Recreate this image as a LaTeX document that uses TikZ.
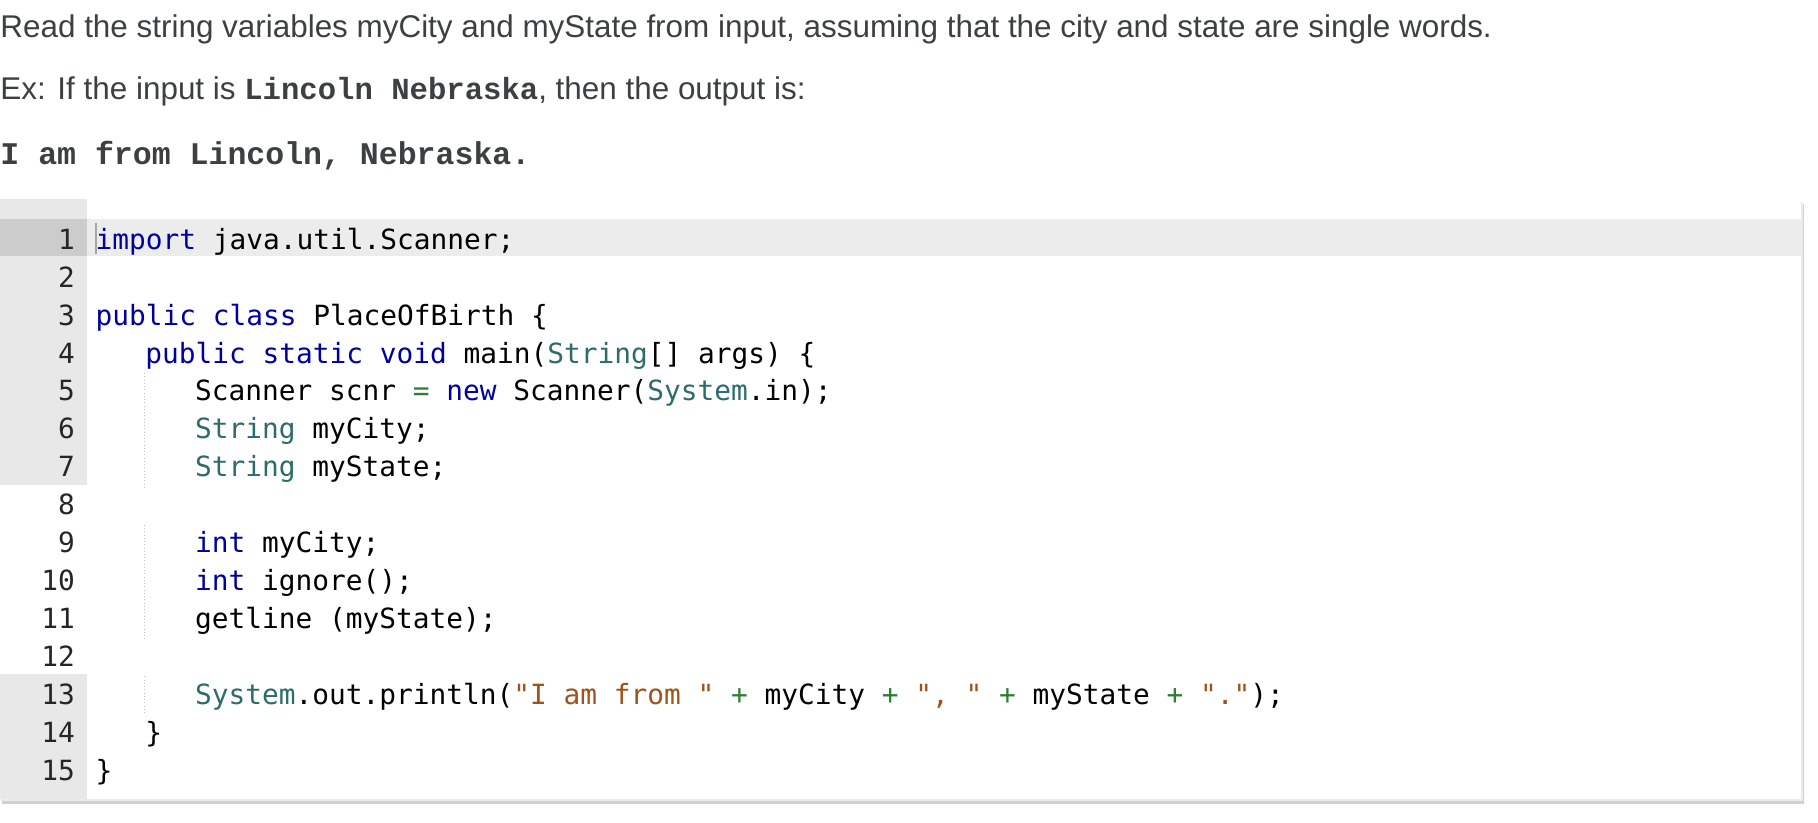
\documentclass[tikz,border=0pt]{standalone}
\usepackage{fontspec}
\setmainfont{Liberation Sans}
\newfontfamily\codefont{DejaVu Sans Mono}
\newfontfamily\exmono{Liberation Mono}
\definecolor{prose}{HTML}{3C4043}
\definecolor{kwc}{HTML}{0000A2}
\definecolor{tyc}{HTML}{2E6B6B}
\definecolor{stc}{HTML}{A0521B}
\definecolor{opc}{HTML}{2E7D32}
\definecolor{gut}{HTML}{E8E8E8}
\definecolor{hl}{HTML}{ECECEC}
\newcommand{\kw}[1]{\textcolor{kwc}{#1}}
\newcommand{\ty}[1]{\textcolor{tyc}{#1}}
\newcommand{\sv}[1]{\textcolor{stc}{#1}}
\newcommand{\op}[1]{\textcolor{opc}{#1}}
\begin{document}
\begin{tikzpicture}[x=0.5pt,y=-0.5pt,
  prose/.style={anchor=base west,inner sep=0pt,text=prose,font=\fontsize{13.55}{16}\selectfont},
  code/.style={anchor=base west,inner sep=0pt,font=\codefont\fontsize{12}{14}\selectfont},
  num/.style={anchor=base east,inner sep=0pt,font=\codefont\fontsize{12}{14}\selectfont,text=black!85}]
\useasboundingbox (0,0) rectangle (1568,709);
\node[prose] (t1) at (0,32) {Read the string variables myCity and myState from input, assuming that the city and state are single words.};
\node[prose] (t2) at (0,86) {Ex: If the input is {\exmono\bfseries\fontsize{13.2}{14}\selectfont Lincoln Nebraska}, then the output is:};
\node[prose,font=\exmono\bfseries\fontsize{13.6}{16}\selectfont] (t3) at (0,142) {I am from Lincoln, Nebraska.};
% editor
\fill[black!18] (2,176) rectangle (1556,693);
\fill[black!8] (1,174) rectangle (1555,691);
\fill[white] (0,172) rectangle (1553,689);
\fill[gut] (0,172) rectangle (75,418);
\fill[gut] (0,581) rectangle (75,689);
\fill[hl] (75,189) rectangle (1553,221);
\fill[black!20] (0,189) rectangle (75,221);
\draw[black!35,line width=0.8pt] (83,192) -- (83,219);
\foreach \a/\b in {5/7,9/11,13/13}{
  \draw[black!25,densely dotted] (125,{215+(\a-1)*32.7-24}) -- (125,{215+(\b-1)*32.7+9});}
\foreach \n in {1,...,15}{\node[num] (n\n) at (65,{215+(\n-1)*32.7}) {\n};}
\def\L#1#2#3{\node[code] (c#1) at ({82+#2*14.3},{215+(#1-1)*32.7}) {#3};}
\L{1}{0}{\kw{import} java.util.Scanner;}
\L{3}{0}{\kw{public} \kw{class} PlaceOfBirth \{}
\L{4}{3}{\kw{public} \kw{static} \kw{void} main(\ty{String}[] args) \{}
\L{5}{6}{Scanner scnr \op{=} \kw{new} Scanner(\ty{System}.in);}
\L{6}{6}{\ty{String} myCity;}
\L{7}{6}{\ty{String} myState;}
\L{9}{6}{\kw{int} myCity;}
\L{10}{6}{\kw{int} ignore();}
\L{11}{6}{getline (myState);}
\L{13}{6}{\ty{System}.out.println(\sv{"I am from "} \op{+} myCity \op{+} \sv{", "} \op{+} myState \op{+} \sv{"."});}
\L{14}{3}{\}}
\L{15}{0}{\}}
\end{tikzpicture}
\end{document}
